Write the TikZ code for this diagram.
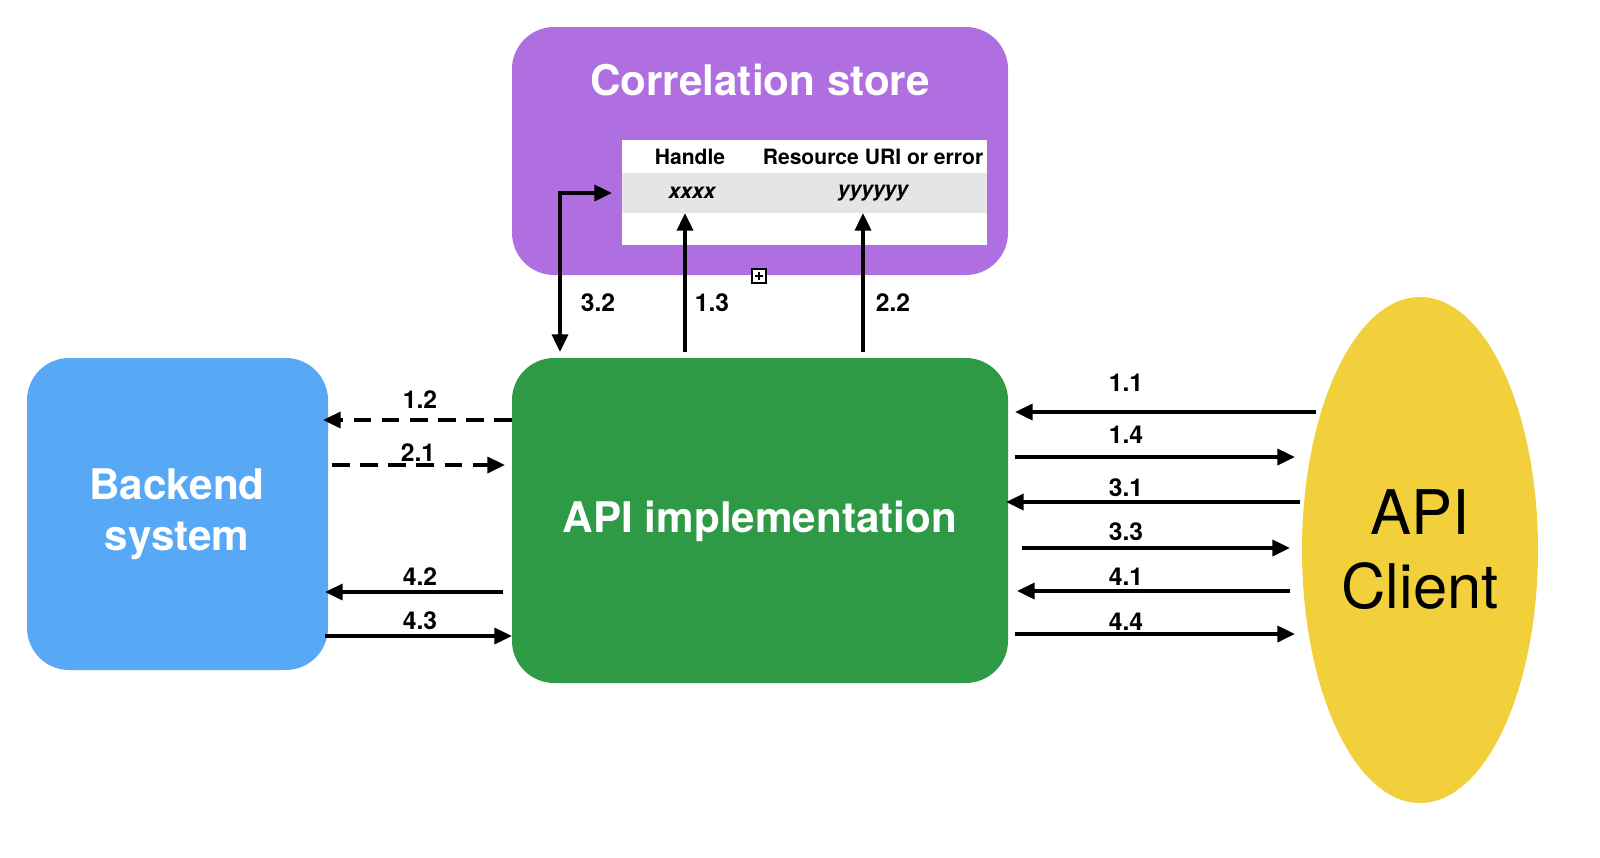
\documentclass[tikz,border=0pt]{standalone}
\usepackage{fontspec}
\setmainfont{TeX Gyre Heros}
\usetikzlibrary{arrows.meta}
\definecolor{cpurple}{HTML}{B06FE0}
\definecolor{cblue}{HTML}{58A9F5}
\definecolor{cgreen}{HTML}{2F9A45}
\definecolor{cyellow}{HTML}{F2D03C}
\definecolor{cgray}{HTML}{E4E5E7}
\tikzset{
  ttl/.style={text=white, font=\bfseries\fontsize{12}{14.5}\selectfont, align=center},
  lbl/.style={font=\bfseries\fontsize{7}{8}\selectfont},
  tip/.tip={Triangle[length=5pt,width=4.5pt]},
  arr/.style={line width=1.1pt, -tip},
  darr/.style={arr, dash pattern=on 5pt off 3pt},
}
\begin{document}
\begin{tikzpicture}[x=0.01cm,y=-0.01cm]
\useasboundingbox (0,0) rectangle (1600,857);
% correlation store
\fill[cpurple, rounded corners=12pt] (512,27) rectangle (1008,275);
\node[ttl] (cst) at (760,80) {Correlation store};
\fill[white] (622,140) rectangle (987,245);
\fill[cgray] (622,173) rectangle (987,213);
\node[font=\bfseries\fontsize{6}{7}\selectfont] (h1) at (690,157) {Handle};
\node[font=\bfseries\fontsize{6}{7}\selectfont] (h2) at (873,157) {Resource URI or error};
\node[font=\bfseries\itshape\fontsize{6}{7}\selectfont] (d1) at (692,193) {xxxx};
\node[font=\bfseries\itshape\fontsize{6}{7}\selectfont] (d2) at (873,193) {yyyyyy};
\draw[line width=0.5pt, fill=white] (752,269) rectangle (766,283);
\draw[line width=0.5pt] (755,276) -- (763,276) (759,272) -- (759,280);
% backend
\fill[cblue, rounded corners=12pt] (27,358) rectangle (328,670);
\node[ttl] (be) at (177,514) {Backend\\system};
% api impl
\fill[cgreen, rounded corners=12pt] (512,358) rectangle (1008,683);
\node[ttl] (api) at (760,521) {API implementation};
% client
\fill[cyellow] (1420,550) ellipse [x radius=118, y radius=253];
\node[font=\fontsize{17.5}{21}\selectfont, align=center] (cl) at (1420,550) {API\\Client};
% coordinates
\coordinate (a32) at (560,352); \coordinate (b32) at (612,193);
\coordinate (a13) at (685,352); \coordinate (b13) at (685,213);
\coordinate (a22) at (863,352); \coordinate (b22) at (863,213);
\draw[line width=1.1pt, tip-tip] (a32) |- (b32);
\draw[arr] (a13) -- (b13);
\draw[arr] (a22) -- (b22);
\node[lbl] at (598,303) {3.2};
\node[lbl] at (712,303) {1.3};
\node[lbl] at (893,303) {2.2};
% left arrows
\draw[darr] (512,420) -- (323,420); \node[lbl] at (420,400) {1.2};
\draw[darr] (332,465) -- (505,465); \node[lbl] at (418,453) {2.1};
\draw[arr] (503,592) -- (325,592); \node[lbl] at (420,577) {4.2};
\draw[arr] (325,636) -- (512,636); \node[lbl] at (420,621) {4.3};
% right arrows
\draw[arr] (1316,412) -- (1015,412); \node[lbl] at (1126,383) {1.1};
\draw[arr] (1015,457) -- (1295,457); \node[lbl] at (1126,435) {1.4};
\draw[arr] (1300,502) -- (1006,502); \node[lbl] at (1126,488) {3.1};
\draw[arr] (1022,548) -- (1290,548); \node[lbl] at (1126,532) {3.3};
\draw[arr] (1290,591) -- (1017,591); \node[lbl] at (1126,577) {4.1};
\draw[arr] (1015,634) -- (1295,634); \node[lbl] at (1126,622) {4.4};
\end{tikzpicture}
\end{document}
